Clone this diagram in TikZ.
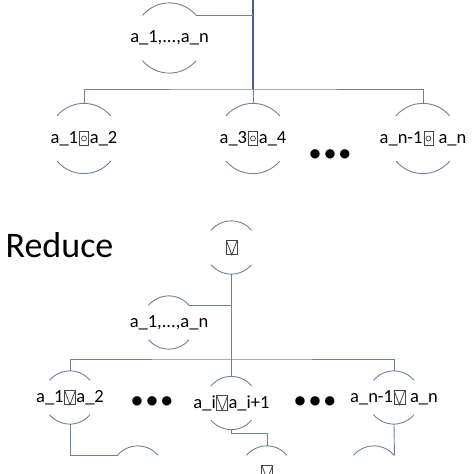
\documentclass[tikz,border=0pt]{standalone}
\usepackage{fontspec}
\setmainfont{Carlito}
\definecolor{lncol}{RGB}{112,128,156}
\definecolor{maincol}{RGB}{70,95,150}
\definecolor{boxcol}{RGB}{70,70,70}
\newcommand{\opo}{\hspace{1pt}\tikz[baseline=0pt,x=1pt,y=1pt]{\draw[boxcol,line width=0.8pt] (0,-2) rectangle (9,12.5); \draw[boxcol,line width=0.7pt] (4.5,5.2) circle (2.5pt);}\hspace{1pt}}
\newcommand{\opv}{\hspace{0.5pt}\tikz[baseline=0pt,x=1pt,y=1pt]{\draw[boxcol,line width=0.8pt] (0,-2) rectangle (11,12.5); \draw[boxcol,line width=0.8pt] (0,12.5) -- (5.5,-2) -- (11,12.5);}\hspace{0.5pt}}
\begin{document}
\begin{tikzpicture}[x=1pt,y=1pt,
  ln/.style={draw=lncol, line width=0.9pt},
  mainln/.style={draw=maincol, line width=1.3pt},
  arcst/.style={draw=lncol, line width=0.9pt},
  bigb/.style={circle, minimum size=70pt, inner sep=0pt},
  smb/.style={circle, minimum size=53pt, inner sep=0pt},
  lab/.style={font=\fontsize{18.5}{21}\selectfont},
  dots/.style={font=\fontsize{22}{24}\selectfont\bfseries, inner sep=0pt},
  bigt/.style={font=\fontsize{36}{40}\selectfont, inner sep=0pt}]
\useasboundingbox (0,0) rectangle (474,474);
\newcommand{\twoarcs}[2]{%
  \draw[arcst] (#1.140) arc[start angle=140,end angle=40,radius=#2pt];
  \draw[arcst] (#1.220) arc[start angle=220,end angle=320,radius=#2pt];}
\newcommand{\toparc}[2]{%
  \draw[arcst] (#1.140) arc[start angle=140,end angle=40,radius=#2pt];}
% ---- top section ----
\node[bigb, label={[lab]center:a\_1,...,a\_n}] (A) at (169.5,436) {};
\node[bigb, label={[lab]center:a\_1\opo a\_2}] (C1) at (84,335.5) {};
\node[bigb, label={[lab]center:a\_3\opo a\_4}] (C2) at (253,335.5) {};
\node[bigb, label={[lab]center:a\_n-1\opo{} a\_n}] (C3) at (423,335.5) {};
\node[dots] (D1) at (330,319) {•\hspace{4pt}•\hspace{4pt}•};
\coordinate (T) at (253,476);
\coordinate (J) at (253,385);
\twoarcs{A}{35}
\twoarcs{C1}{35}
\twoarcs{C2}{35}
\twoarcs{C3}{35}
\draw[mainln] (T) -- (J);
\draw[ln] (A.40) -- (A.40 -| T);
\draw[ln] (C1.north) |- (J) -| (C3.north);
\draw[ln] (J) -- (C2.north);
% ---- reduce section ----
\node[bigt] (RT) at (59.5,229) {Reduce};
\node[smb, label={[lab]center:\opv}] (R) at (231.5,226.5) {};
\node[smb, label={[lab]center:a\_1,...,a\_n}] (B) at (169,151.5) {};
\node[smb, label={[lab]center:a\_1\opv a\_2}] (L) at (70,76.5) {};
\node[smb, label={[lab]center:a\_i\opv a\_i+1}] (M) at (231.5,71) {};
\node[smb, label={[lab]center:a\_n-1\opv{} a\_n}] (Rt) at (394,76.5) {};
\node[dots] (D2) at (152,72) {•\hspace{4pt}•\hspace{4pt}•};
\node[dots] (D3) at (315,72) {•\hspace{4pt}•\hspace{4pt}•};
\node[smb] (BL) at (138,1.5) {};
\node[smb, label={[lab]center:\opv}] (BM) at (267,1.5) {};
\node[smb] (BR) at (374,1.5) {};
\coordinate (J2) at (231.5,115);
\twoarcs{R}{26.5}
\twoarcs{B}{26.5}
\twoarcs{L}{26.5}
\twoarcs{M}{26.5}
\twoarcs{Rt}{26.5}
\toparc{BL}{26.5}
\toparc{BM}{26.5}
\toparc{BR}{26.5}
\draw[ln] (R.south) -- (J2) -- (M.north);
\draw[ln] (B.40) -- (B.40 -| J2);
\draw[ln] (L.north) |- (J2) -| (Rt.north);
\draw[ln] (L.south) |- (BL.140);
\draw[ln] (M.south) -- ++(0,-3.5) -| (BM.north);
\draw[ln] (Rt.south) -- (BR.40);
\end{tikzpicture}
\end{document}
